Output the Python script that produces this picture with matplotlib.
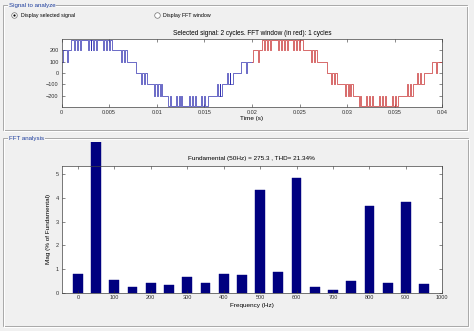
import numpy as np
import matplotlib
matplotlib.use("Agg")
import matplotlib.pyplot as plt
from matplotlib.patches import Rectangle
from matplotlib.lines import Line2D
from matplotlib.transforms import Bbox, TransformedBbox

# one cycle of the inverter output, step edges (ms) and levels (V)
step_ms = [0.00, 0.15, 0.60, 0.70, 1.05,
           1.30, 1.40, 1.60, 1.70, 1.95, 2.05,
           2.75, 2.85, 3.05, 3.15, 3.35, 3.45, 3.65, 3.75,
           4.35, 4.45, 4.65, 4.75, 4.95, 5.05, 5.35,
           6.25, 6.35, 6.55, 6.65, 6.85, 7.85,
           8.35, 8.45, 8.65, 8.75, 8.95,
           9.75, 9.85, 10.05, 10.15, 10.35, 10.45, 10.60,
           11.20, 11.40, 11.50,
           12.00, 12.10, 12.30, 12.40, 12.60, 12.70,
           13.40, 13.50, 13.70, 13.80, 14.00, 14.10,
           14.70, 14.80, 15.00, 15.10, 15.35,
           16.30, 16.40, 16.60, 16.70, 16.90,
           17.35, 17.45, 17.65, 17.75, 18.05,
           18.90, 19.35, 19.45, 20.00]
step_v = [100, 200, 100, 200, 295,
          200, 295, 200, 295, 200, 295,
          200, 295, 200, 295, 200, 295, 200, 295,
          200, 295, 200, 295, 200, 295, 200,
          100, 200, 100, 200, 100, 0,
          -100, 0, -100, 0, -100,
          -200, -100, -200, -100, -200, -100, -200,
          -295, -200, -295,
          -200, -295, -200, -295, -200, -295,
          -200, -295, -200, -295, -200, -295,
          -200, -295, -200, -295, -200,
          -100, -200, -100, -200, -100,
          0, -100, 0, -100, 0,
          100, 0, 100, 100]

# FFT spectrum (% of fundamental)
freqs = [0, 50, 100, 150, 200, 250, 300, 350, 400, 450,
         500, 550, 600, 650, 700, 750, 800, 850, 900, 950]
mags = [0.81, 100, 0.55, 0.25, 0.42, 0.34, 0.66, 0.42, 0.77, 0.76,
        4.33, 0.88, 4.86, 0.22, 0.13, 0.50, 3.67, 0.39, 3.82, 0.38]

W, H = 474, 331
BG = '#f0f0f0'
plt.rcParams['font.family'] = ['Liberation Sans', 'DejaVu Sans']

fig = plt.figure(figsize=(W / 100, H / 100), dpi=100, facecolor=BG)


def fx(px):
    return px / W


def fy(py):
    return 1 - py / H


def panel(x0, y0, x1, y1, title):
    for off, col in [(0, '#a8a8a8'), (1, 'white')]:
        fig.add_artist(Rectangle((fx(x0 + off), fy(y1 + off)), fx(x1 - x0), (y1 - y0) / H,
                                 transform=fig.transFigure, fill=False, edgecolor=col, lw=0.7))
    fig.text(fx(x0 + 6), fy(y0), title, fontsize=4.4, color='#1c3c9c', va='center', ha='left',
             bbox=dict(facecolor=BG, edgecolor='none', pad=0.6))


panel(3, 5, 467, 130, 'Signal to analyze')
panel(3, 138, 468, 326, 'FFT analysis')

# radio buttons
fig.add_artist(Line2D([fx(14)], [fy(15)], marker='o', ms=4, mfc='white', mec='#707070', mew=0.5,
                      transform=fig.transFigure))
fig.add_artist(Line2D([fx(14)], [fy(15)], marker='o', ms=1.6, mfc='black', mec='black', mew=0,
                      transform=fig.transFigure))
fig.text(fx(21), fy(15), 'Display selected signal', fontsize=3.8, va='center')
fig.add_artist(Line2D([fx(157)], [fy(15)], marker='o', ms=4, mfc='white', mec='#707070', mew=0.5,
                      transform=fig.transFigure))
fig.text(fx(163), fy(15), 'Display FFT window', fontsize=3.8, va='center')

# signal axes
ax1 = fig.add_axes([fx(61.5), fy(107), fx(442.3 - 61.5), (107 - 39) / H])
t1 = np.array(step_ms) / 1000
t2 = t1 + 0.02
ax1.step(t1, step_v, where='post', color='#3030b0', lw=0.5)
ax1.step(t2, step_v, where='post', color='#c83030', lw=0.5)
ax1.set_xlim(0, 0.04)
ax1.set_ylim(-300, 300)
ax1.set_xticks(np.arange(0, 0.0401, 0.005))
ax1.set_xticklabels(['0', '0.005', '0.01', '0.015', '0.02', '0.025', '0.03', '0.035', '0.04'])
ax1.set_yticks([-200, -100, 0, 100, 200])
ax1.set_xlabel('Time (s)', fontsize=4.6, labelpad=1.2)
ax1.set_title('Selected signal: 2 cycles. FFT window (in red): 1 cycles', fontsize=4.7, pad=3)

# FFT axes
ax2 = fig.add_axes([fx(61.5), fy(292.7), fx(442.3 - 61.5), (292.7 - 166) / H])
bars = ax2.bar(freqs, mags, width=27, color='#000080', edgecolor='#000080', lw=0.3)
clip = TransformedBbox(Bbox([[0, 0], [1, fy(142)]]), fig.transFigure)
for b in bars:
    b.set_clip_box(clip)
ax2.set_xlim(-45, 1000)
ax2.set_ylim(0, 5.35)
ax2.set_xticks(np.arange(0, 1001, 100))
ax2.set_yticks([0, 1, 2, 3, 4, 5])
ax2.set_xlabel('Frequency (Hz)', fontsize=4.6, labelpad=1.5)
ax2.set_ylabel('Mag (% of Fundamental)', fontsize=4.6, labelpad=3)
ax2.set_title('Fundamental (50Hz) = 275.3 , THD= 21.34%', fontsize=4.6, pad=4)

for ax in (ax1, ax2):
    ax.tick_params(direction='in', length=2, width=0.4, labelsize=4.0, pad=2,
                   top=True, right=True, colors='#303030')
    for s in ax.spines.values():
        s.set_linewidth(0.5)
        s.set_color('#404040')

fig.savefig('out.png', dpi=100, facecolor=BG)
